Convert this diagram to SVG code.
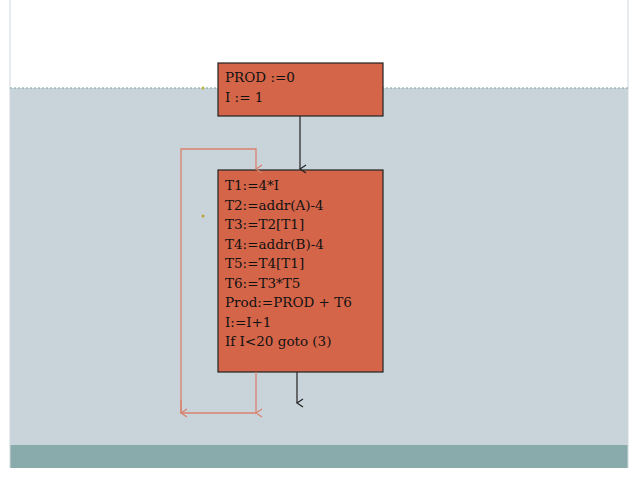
<svg xmlns="http://www.w3.org/2000/svg" width="638" height="478" viewBox="0 0 638 478">
<style>
.box{fill:#d46549;stroke:#222;stroke-width:1.2}
.t{font-family:"DejaVu Serif","Liberation Serif",serif;font-size:13.5px;fill:#111}
.k{stroke:#222;stroke-width:1.2;fill:none}
.r{stroke:#d9826d;stroke-width:1.3;fill:none}
</style>
<defs>
<marker id="ak" markerWidth="10" markerHeight="10" refX="5" refY="9" orient="auto-start-reverse" markerUnits="userSpaceOnUse" viewBox="0 0 10 10"><path d="M1,3 L5,9 L9,3" fill="none" stroke="#222" stroke-width="1.2"/></marker>
<marker id="ar" markerWidth="10" markerHeight="10" refX="5" refY="9" orient="auto" markerUnits="userSpaceOnUse" viewBox="0 0 10 10"><path d="M1,3 L5,9 L9,3" fill="none" stroke="#d9826d" stroke-width="1.3"/></marker>
</defs>
<rect width="638" height="478" fill="#fff"/>
<rect x="10" y="88" width="618" height="357" fill="#c8d3da"/>
<rect x="10" y="445" width="618" height="23" fill="#8aabab"/>
<line x1="10" y1="0" x2="10" y2="468" stroke="#d0d8dc"/>
<line x1="628" y1="0" x2="628" y2="468" stroke="#d0d8dc"/>
<line x1="10" y1="88" x2="628" y2="88" stroke="#7fa0a8" stroke-dasharray="2,2"/>
<circle cx="203" cy="88" r="1.5" fill="#b5b83a"/>
<circle cx="203" cy="216" r="1.5" fill="#c0a030"/>
<g id="n1"><rect class="box" x="218" y="63" width="165" height="53"/>
<text class="t" x="225" y="82">PROD :=0</text><text class="t" x="225" y="102">I := 1</text></g>
<g id="n2"><rect class="box" x="218" y="170" width="165" height="202"/>
<text class="t"><tspan x="225" y="190">T1:=4*I</tspan><tspan x="225" y="209.5">T2:=addr(A)-4</tspan><tspan x="225" y="229">T3:=T2[T1]</tspan><tspan x="225" y="248.5">T4:=addr(B)-4</tspan><tspan x="225" y="268">T5:=T4[T1]</tspan><tspan x="225" y="287.5">T6:=T3*T5</tspan><tspan x="225" y="307">Prod:=PROD + T6</tspan><tspan x="225" y="326.5">I:=I+1</tspan><tspan x="225" y="346">If I&lt;20 goto (3)</tspan></text></g>
<g id="edges">
<line class="k" x1="300" y1="116" x2="300" y2="169" marker-end="url(#ak)"/>
<line class="k" x1="297" y1="372" x2="297" y2="403" marker-end="url(#ak)"/>
<line class="r" x1="256" y1="372" x2="256" y2="413" marker-end="url(#ar)"/>
<path class="r" d="M256,413 H181 V149 H256 V169" marker-end="url(#ar)"/>
<line class="r" x1="181" y1="400" x2="181" y2="413" marker-end="url(#ar)"/>
</g>
</svg>
